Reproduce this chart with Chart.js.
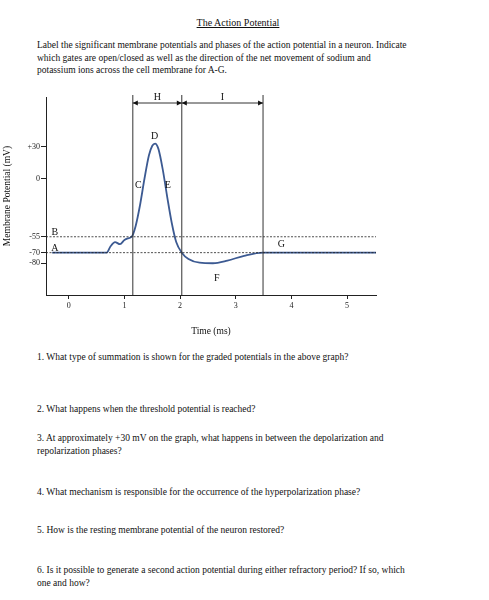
<!DOCTYPE html>
<html><head><meta charset="utf-8">
<script src="https://cdn.jsdelivr.net/npm/chart.js@4.4.0/dist/chart.umd.min.js"></script>
<style>
body{margin:0;background:#fff;font-family:"Liberation Serif","DejaVu Serif",serif;color:#111;}
#page{position:relative;width:489px;height:600px;overflow:hidden;}
.t{position:absolute;left:37px;font-size:9.5px;line-height:12.5px;white-space:nowrap;}
#wrap{position:absolute;left:0;top:85px;width:489px;height:260px;}
</style></head><body>
<div id="page">
<div class="t" style="left:0;width:476px;text-align:center;top:17px;font-size:10px;text-decoration:underline">The Action Potential</div>
<div class="t" style="top:39px">Label the significant membrane potentials and phases of the action potential in a neuron. Indicate<br>which gates are open/closed as well as the direction of the net movement of sodium and<br>potassium ions across the cell membrane for A-G.</div>
<div id="wrap"><canvas id="c"></canvas></div>
<div class="t" style="top:351px">1. What type of summation is shown for the graded potentials in the above graph?</div>
<div class="t" style="top:403px">2. What happens when the threshold potential is reached?</div>
<div class="t" style="top:432px">3. At approximately +30 mV on the graph, what happens in between the depolarization and<br>repolarization phases?</div>
<div class="t" style="top:486px">4. What mechanism is responsible for the occurrence of the hyperpolarization phase?</div>
<div class="t" style="top:524px">5. How is the resting membrane potential of the neuron restored?</div>
<div class="t" style="top:564px">6. Is it possible to generate a second action potential during either refractory period? If so, which<br>one and how?</div>
</div>
<script>
// curve (time in ms, membrane potential in mV)
const times = [-0.3, 0.68, 0.75, 0.83, 0.92, 1.0, 1.06, 1.13, 1.2, 1.28, 1.36, 1.44, 1.5, 1.55, 1.61, 1.69, 1.77, 1.85, 1.93, 2.03, 2.15, 2.35, 2.59, 2.85, 3.15, 3.49, 5.52];
const volts = [-70, -70, -64, -60, -62, -58, -56.5, -55, -45, -25, 0, 22, 31, 33, 28, 8, -18, -42, -60, -70, -76, -79.5, -80, -77.5, -73, -70, -70];
const yTicks = [30, 0, -55, -70, -80];
const yTickLabels = ['+30', '0', '-55', '-70', '-80'];
const xTicks = [0, 1, 2, 3, 4, 5];
const dashedLevels = [-55, -70];
const phaseLines = [1.15, 2.03, 3.49];
const pointLabels = [
  {t: 'A', x: -0.25, y: -66}, {t: 'B', x: -0.25, y: -51}, {t: 'C', x: 1.25, y: -6},
  {t: 'D', x: 1.54, y: 40}, {t: 'E', x: 1.78, y: -6}, {t: 'F', x: 2.66, y: -94}, {t: 'G', x: 3.82, y: -62}
];

const extras = {
  id: 'extras',
  afterDatasetsDraw(chart) {
    const ctx = chart.ctx, xs = chart.scales.x, ys = chart.scales.y, a = chart.chartArea;
    ctx.save();
    ctx.strokeStyle = '#222'; ctx.lineWidth = 0.8;
    ctx.setLineDash([2, 1.5]);
    dashedLevels.forEach(v => {
      const y = ys.getPixelForValue(v);
      ctx.beginPath(); ctx.moveTo(a.left, y); ctx.lineTo(a.right, y); ctx.stroke();
    });
    ctx.setLineDash([]);
    ctx.strokeStyle = '#333'; ctx.lineWidth = 1;
    phaseLines.forEach(t => {
      const x = xs.getPixelForValue(t);
      ctx.beginPath(); ctx.moveTo(x, a.top - 2); ctx.lineTo(x, a.bottom); ctx.stroke();
    });
    // arrows H and I
    const ay = a.top + 6;
    const arrow = (x1, x2, lab) => {
      ctx.beginPath(); ctx.moveTo(x1, ay); ctx.lineTo(x2, ay); ctx.stroke();
      [[x1, 1], [x2, -1]].forEach(([x, d]) => {
        ctx.beginPath(); ctx.moveTo(x, ay); ctx.lineTo(x + 5 * d, ay - 2.5); ctx.lineTo(x + 5 * d, ay + 2.5); ctx.closePath(); ctx.fill();
      });
      ctx.font = '10px "Liberation Serif"'; ctx.textAlign = 'center'; ctx.textBaseline = 'bottom';
      ctx.fillText(lab, (x1 + x2) / 2, ay - 1);
    };
    ctx.fillStyle = '#111';
    const p = phaseLines.map(t => xs.getPixelForValue(t));
    arrow(p[0], p[1], 'H'); arrow(p[1], p[2], 'I');
    ctx.font = '10px "Liberation Serif"'; ctx.textAlign = 'center'; ctx.textBaseline = 'middle';
    pointLabels.forEach(l => ctx.fillText(l.t, xs.getPixelForValue(l.x), ys.getPixelForValue(l.y)));
    ctx.restore();
  }
};

new Chart(document.getElementById('c'), {
  type: 'line',
  data: { datasets: [{ data: times.map((t, i) => ({x: t, y: volts[i]})), borderColor: '#3c5a92', borderWidth: 1.8, pointRadius: 0, cubicInterpolationMode: 'monotone' }] },
  options: {
    responsive: true, maintainAspectRatio: false, animation: false,
    layout: { padding: { top: 12, right: 113, left: 0, bottom: 8 } },
    plugins: { legend: { display: false }, tooltip: { enabled: false } },
    scales: {
      x: {
        type: 'linear', min: -0.41, max: 5.52,
        afterBuildTicks: s => { s.ticks = xTicks.map(v => ({value: v})); },
        afterFit: s => { s.height = 42; },
        grid: { display: true, drawOnChartArea: false, drawTicks: true, tickLength: 4, color: '#222' },
        border: { color: '#222', width: 1 },
        ticks: { color: '#222', font: { family: 'Liberation Serif', size: 8 }, padding: 2 },
        title: { display: true, text: 'Time (ms)', color: '#111', font: { family: 'Liberation Serif', size: 9.5 }, padding: { top: 2, bottom: 0 } }
      },
      y: {
        min: -110, max: 77,
        afterBuildTicks: s => { s.ticks = yTicks.map(v => ({value: v})); },
        afterFit: s => { s.width = 46; },
        grid: { display: true, drawOnChartArea: false, tickLength: 5, color: '#222' },
        border: { color: '#222', width: 1 },
        ticks: { color: '#222', font: { family: 'Liberation Serif', size: 8 }, padding: 1, callback: v => yTickLabels[yTicks.indexOf(v)] },
        title: { display: true, text: 'Membrane Potential (mV)', color: '#111', font: { family: 'Liberation Serif', size: 9.5 }, padding: 2 }
      }
    }
  },
  plugins: [extras]
});
</script>
</body></html>
